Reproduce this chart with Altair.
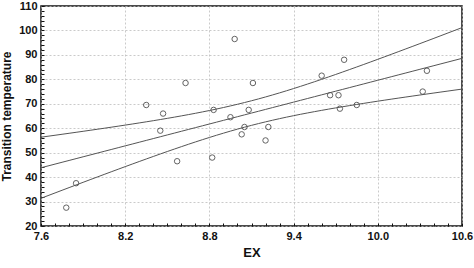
import altair as alt
import numpy as np
import pandas as pd

ex = [7.78, 7.85, 8.35, 8.47, 8.45, 8.63, 8.57, 8.82, 8.83, 8.95, 8.98,
      9.11, 9.08, 9.05, 9.03, 9.22, 9.20, 9.60, 9.76, 9.66, 9.72, 9.73,
      9.85, 10.32, 10.35]
temp = [27.5, 37.5, 69.5, 66.0, 59.0, 78.5, 46.5, 48.0, 67.5, 64.5, 96.5,
        78.5, 67.5, 60.5, 57.5, 60.5, 55.0, 81.5, 88.0, 73.5, 73.5, 68.0,
        69.5, 75.0, 83.5]
x_ticks = [7.6, 8.2, 8.8, 9.4, 10.0, 10.6]
y_ticks = [20, 30, 40, 50, 60, 70, 80, 90, 100, 110]
x_minor = [round(7.6 + 0.1 * i, 1) for i in range(31)]
y_minor = list(range(20, 111, 2))

# linear fit with 95% confidence band, computed from the points
xa = np.array(ex)
ya = np.array(temp)
n = len(xa)
b1, b0 = np.polyfit(xa, ya, 1)
res = ya - (b0 + b1 * xa)
s = np.sqrt(np.sum(res ** 2) / (n - 2))
sxx = np.sum((xa - xa.mean()) ** 2)
t = 2.069
xs = np.linspace(7.6, 10.6, 61)
yh = b0 + b1 * xs
hw = t * s * np.sqrt(1 / n + (xs - xa.mean()) ** 2 / sxx)
fit = pd.DataFrame({"x": xs, "fit": yh, "lo": yh - hw, "hi": yh + hw})
pts = pd.DataFrame({"EX": ex, "T": temp})

W, H = 421, 220
xscale = alt.Scale(domain=[7.6, 10.6], nice=False, zero=False)
yscale = alt.Scale(domain=[20, 110], nice=False, zero=False)

font = "Liberation Sans"

xaxis = alt.Axis(values=x_ticks, format=".1f", title="EX", grid=True,
                 gridColor="#bdbdbd", gridDash=[2, 2], gridWidth=0.8,
                 domain=False, ticks=False, labelFont=font, labelFontSize=11,
                 labelFontWeight="bold", labelColor="#111", labelPadding=4,
                 labelFlush=False,
                 titleFont=font, titleFontSize=13, titleFontWeight="bold",
                 titleColor="#111", titlePadding=5)
yaxis = alt.Axis(values=y_ticks, title="Transition temperature", grid=True,
                 gridColor="#bdbdbd", gridDash=[2, 2], gridWidth=0.8,
                 domain=False, ticks=False, labelFont=font, labelFontSize=11,
                 labelFontWeight="bold", labelColor="#111", labelPadding=4,
                 labelFlush=False,
                 titleFont=font, titleFontSize=12, titleFontWeight="bold",
                 titleColor="#111", titlePadding=5)

points = alt.Chart(pts).mark_point(shape="circle", filled=False, size=30,
                                   color="#222", strokeWidth=1).encode(
    x=alt.X("EX:Q", scale=xscale, axis=xaxis),
    y=alt.Y("T:Q", scale=yscale, axis=yaxis),
)

base = alt.Chart(fit)
lines = alt.layer(
    base.mark_line(color="#555", strokeWidth=1).encode(
        x=alt.X("x:Q", scale=xscale, axis=None), y=alt.Y("fit:Q", scale=yscale, axis=None)),
    base.mark_line(color="#555", strokeWidth=1).encode(
        x=alt.X("x:Q", scale=xscale, axis=None), y=alt.Y("lo:Q", scale=yscale, axis=None)),
    base.mark_line(color="#555", strokeWidth=1).encode(
        x=alt.X("x:Q", scale=xscale, axis=None), y=alt.Y("hi:Q", scale=yscale, axis=None)),
)

# inward-pointing minor ticks drawn by axes placed on the opposite side
minor = alt.Chart(pts).mark_point(opacity=0).encode(
    x=alt.X("EX:Q", scale=xscale,
            axis=alt.Axis(orient="top", offset=-H, values=x_minor, labels=False,
                          title=None, grid=False, domain=False, tickColor="#111",
                          tickSize=3, tickWidth=1)),
    y=alt.Y("T:Q", scale=yscale,
            axis=alt.Axis(orient="right", offset=-W, values=y_minor, labels=False,
                          title=None, grid=False, domain=False, tickColor="#111",
                          tickSize=3, tickWidth=1)),
)

chart = alt.layer(points, lines, minor).resolve_axis(
    x="independent", y="independent"
).properties(
    width=W, height=H,
    autosize=alt.AutoSizeParams(type="none"),
    padding={"left": 41, "top": 6, "right": 12, "bottom": 42},
    background="white",
).configure_view(stroke="#111", strokeWidth=1.5)

chart.save("out.html", embed_options={"renderer": "svg", "actions": False})
